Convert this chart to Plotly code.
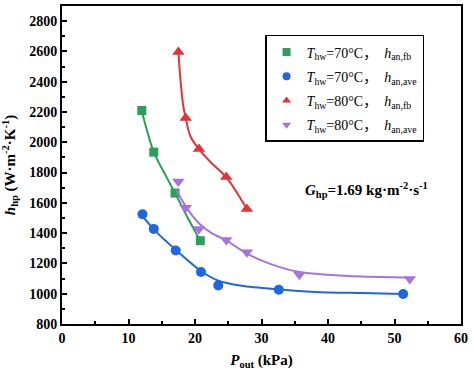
import plotly.graph_objects as go

# ---- data ----
green_x = [12.0, 13.8, 17.0, 20.8]
green_y = [2210, 1935, 1665, 1350]
blue_x = [12.1, 13.8, 17.1, 20.9, 23.5, 32.6, 51.3]
blue_y = [1525, 1428, 1285, 1143, 1055, 1026, 998]
red_x = [17.5, 18.6, 20.6, 24.7, 27.8]
red_y = [2597, 2160, 1955, 1770, 1560]
purple_x = [17.5, 18.6, 20.6, 24.7, 27.8, 35.7, 52.3]
purple_y = [1741, 1567, 1428, 1355, 1273, 1126, 1097]

# fitted curves
green_fit_x = [12.0, 13.8, 15.5, 17.0, 18.9, 20.8]
green_fit_y = [2205, 1935, 1788, 1665, 1502, 1350]
blue_fit_x = [12.1, 13.8, 17.1, 20.9, 23.3, 27.0, 32.6, 38.0, 45.0, 51.3]
blue_fit_y = [1512, 1425, 1290, 1150, 1090, 1052, 1028, 1012, 1004, 998]
red_fit_x = [17.5, 17.8, 18.2, 18.6, 19.3, 20.6, 22.5, 24.7, 27.8]
red_fit_y = [2597, 2420, 2250, 2160, 2040, 1955, 1862, 1770, 1560]
purple_fit_x = [17.2, 18.7, 20.7, 22.5, 24.7, 27.8, 31.3, 35.7, 40.0, 45.0, 52.3]
purple_fit_y = [1685, 1570, 1460, 1400, 1352, 1265, 1197, 1143, 1125, 1113, 1106]

names = [
    "<i>T</i><sub>hw</sub>=70°C，  <i>h</i><sub>an,fb</sub>",
    "<i>T</i><sub>hw</sub>=70°C，  <i>h</i><sub>an,ave</sub>",
    "<i>T</i><sub>hw</sub>=80°C，  <i>h</i><sub>an,fb</sub>",
    "<i>T</i><sub>hw</sub>=80°C，  <i>h</i><sub>an,ave</sub>",
]
colors = ["#2E9E5B", "#1F66E0", "#E53238", "#A874DC"]
symbols = ["square", "circle", "triangle-up", "triangle-down"]
sizes = [9, 10, 11, 11]

FONT = "'Liberation Serif', 'Times New Roman', 'Noto Sans CJK SC', serif"
AXFONT = "Times New Roman"

fig = go.Figure()
series = [
    (green_x, green_y, green_fit_x, green_fit_y),
    (blue_x, blue_y, blue_fit_x, blue_fit_y),
    (red_x, red_y, red_fit_x, red_fit_y),
    (purple_x, purple_y, purple_fit_x, purple_fit_y),
]
for i, (x, y, fx, fy) in enumerate(series):
    fig.add_trace(go.Scatter(x=fx, y=fy, mode="lines",
                             line=dict(color=colors[i], width=2, shape="spline", smoothing=0.8),
                             showlegend=False, hoverinfo="skip"))
    fig.add_trace(go.Scatter(x=x, y=y, mode="markers",
                             marker=dict(color=colors[i], symbol=symbols[i], size=sizes[i]),
                             showlegend=False))
for i in range(4):
    fig.add_trace(go.Scatter(x=[None], y=[None], mode="markers", name=names[i],
                             legendgroup="g%d" % i,
                             marker=dict(color=colors[i], symbol=symbols[i], size=8)))

axis_common = dict(
    showline=True, linecolor="black", linewidth=2, mirror=True,
    ticks="inside", ticklen=5, tickwidth=1.5, tickcolor="black",
    showgrid=False, zeroline=False, automargin=False,
    tickprefix="<b>", ticksuffix="</b>",
    tickfont=dict(family=AXFONT, size=14, color="black"),
)
fig.update_xaxes(range=[0, 60], dtick=10,
                 minor=dict(dtick=5, ticks="inside", ticklen=3, tickwidth=1.5, tickcolor="black"),
                 title=dict(text="<b><i>P</i><sub>out</sub> (kPa)</b>",
                            font=dict(family=AXFONT, size=15, color="black")),
                 **axis_common)
fig.update_yaxes(range=[800, 2900], dtick=200,
                 minor=dict(dtick=100, ticks="inside", ticklen=3, tickwidth=1.5, tickcolor="black"),
                 title=dict(text="<b><i>h</i><sub>hp</sub> (W·m<sup>-2</sup>·K<sup>-1</sup>)</b>",
                            font=dict(family=AXFONT, size=15, color="black")),
                 **axis_common)

fig.add_annotation(x=45.8, y=1688, xref="x", yref="y", showarrow=False,
                   text="<b><i>G</i><sub>hp</sub>=1.69 kg·m<sup>-2</sup>·s<sup>-1</sup></b>",
                   font=dict(family=FONT, size=15, color="black"))

fig.update_layout(
    width=474, height=370,
    font=dict(family=FONT, size=14, color="black"),
    margin=dict(l=62, r=13, t=6, b=46, autoexpand=False),
    paper_bgcolor="white", plot_bgcolor="white",
    legend=dict(x=0.509, y=0.909, xanchor="left", yanchor="top",
                bordercolor="black", borderwidth=1.5, bgcolor="white",
                font=dict(family=FONT, size=14, color="black"),
                tracegroupgap=3, itemwidth=30),
    showlegend=True,
)
fig.write_html("out.html", config={"displayModeBar": False},
               post_script="document.body.style.margin='0px';document.body.style.padding='0px';")
